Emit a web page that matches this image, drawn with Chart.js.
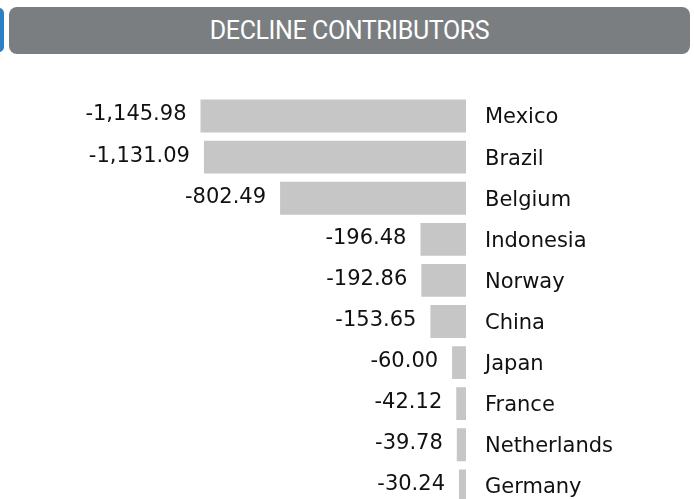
<!DOCTYPE html>
<html>
<head>
<meta charset="utf-8">
<script src="https://cdn.jsdelivr.net/npm/chart.js@4"></script>
<style>
  html, body { margin: 0; padding: 0; background: #fff; overflow: hidden; }
  #wrap { position: relative; width: 694px; height: 499px; overflow: hidden; }
  #tab { position: absolute; left: -6px; top: 8px; width: 10px; height: 44px; background: #2b7fc4; border-radius: 6px; }
  #header {
    position: absolute; left: 9px; top: 7px; width: 681px; height: 47px;
    background: #7b7e80; border-radius: 8px; color: #fff;
    font-family: Roboto, sans-serif; font-size: 25px; font-weight: 400;
    line-height: 47px; text-align: center; letter-spacing: -0.4px;
  }
  #declines { position: absolute; left: 0; top: 0; }
</style>
</head>
<body>
<div id="wrap">
  <div id="tab"></div>
  <div id="header">DECLINE CONTRIBUTORS</div>
  <canvas id="declines" width="694" height="530"></canvas>
</div>
<script>
const countries = ['Mexico', 'Brazil', 'Belgium', 'Indonesia', 'Norway', 'China', 'Japan', 'France', 'Netherlands', 'Germany'];
const declines = [-1145.98, -1131.09, -802.49, -196.48, -192.86, -153.65, -60.00, -42.12, -39.78, -30.24];

const fmt = (v) => v.toLocaleString('en-US', { minimumFractionDigits: 2, maximumFractionDigits: 2 });

// value labels sit just left of each bar
const valueLabels = {
  id: 'valueLabels',
  afterDatasetsDraw(chart) {
    const { ctx } = chart;
    const meta = chart.getDatasetMeta(0);
    ctx.save();
    ctx.font = '21px "DejaVu Sans"';
    ctx.fillStyle = '#111';
    ctx.textAlign = 'right';
    ctx.textBaseline = 'middle';
    meta.data.forEach((bar, i) => {
      const left = Math.min(bar.x, bar.base);
      ctx.fillText(fmt(declines[i]), left - 14, bar.y - 1);
    });
    ctx.restore();
  }
};

const chart = new Chart(document.getElementById('declines'), {
  type: 'bar',
  data: {
    labels: countries,
    datasets: [{
      data: declines,
      backgroundColor: '#c6c6c6',
      borderWidth: 0,
      barPercentage: 0.8,
      categoryPercentage: 1.0,
    }],
  },
  options: {
    indexAxis: 'y',
    responsive: false,
    animation: false,
    layout: {
      padding: { left: 188, top: 95.5, bottom: 4.5, right: 0 },
    },
    scales: {
      x: {
        display: false,
        min: -1200,
        max: 0,
      },
      y: {
        position: 'right',
        grid: { display: false },
        border: { display: false },
        ticks: {
          padding: 11,
          labelOffset: 2,
          color: '#111',
          font: { family: '"DejaVu Sans"', size: 21 },
        },
        afterFit: (scale) => { scale.width = 228; },
      },
    },
    plugins: {
      legend: { display: false },
      tooltip: { enabled: false },
    },
  },
  plugins: [valueLabels],
});
</script>
</body>
</html>
